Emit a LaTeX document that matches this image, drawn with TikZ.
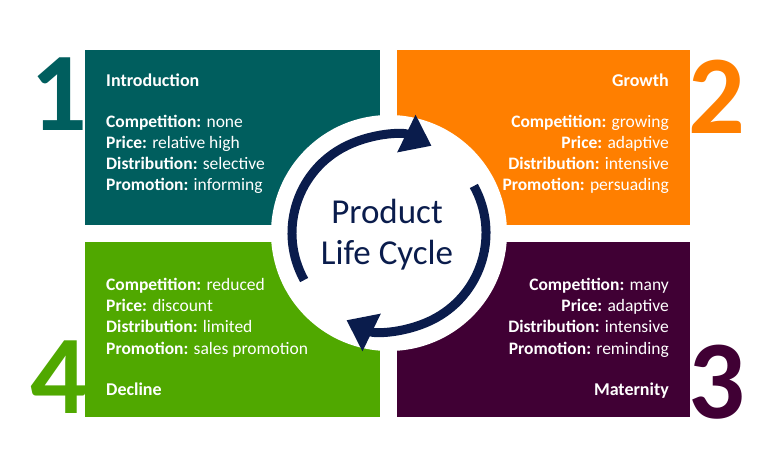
\documentclass[tikz,border=0pt]{standalone}
\usepackage{fontspec}
\setmainfont{Carlito}
\usetikzlibrary{arrows.meta}
\definecolor{cteal}{RGB}{0,94,94}
\definecolor{corange}{RGB}{255,127,0}
\definecolor{cgreen}{RGB}{80,168,0}
\definecolor{cpurple}{RGB}{64,0,52}
\definecolor{cnavy}{RGB}{10,28,76}
\tikzset{quad/.style={inner sep=0pt,outer sep=0pt},
 lbl/.style={text=white,font=\fontsize{17.5}{20}\selectfont,inner sep=0pt},
 ttl/.style={text=white,font=\fontsize{18}{21}\selectfont\bfseries,inner sep=0pt},
 bignum/.style={font=\fontsize{112}{112}\selectfont\bfseries,inner sep=0pt},
 ring/.style={draw=cnavy,line width=9pt,-{Triangle[length=28pt,width=40pt]}}}
\begin{document}
\begin{tikzpicture}[x=1pt,y=-1pt]
\useasboundingbox (0,0) rectangle (762,466);
\fill[white] (0,0) rectangle (762,466);
\node[bignum,text=cteal,anchor=base east] (n1) at (87,130) {1};
\node[bignum,text=corange,anchor=base west] (n2) at (688,133) {2};
\node[bignum,text=cpurple,anchor=base west] (n3) at (688,418) {3};
\node[bignum,text=cgreen,anchor=base east] (n4) at (87,413) {4};
\fill[cteal] (85,50) rectangle (380,225);
\fill[corange] (397,50) rectangle (690,225);
\fill[cgreen] (85,242) rectangle (380,417);
\fill[cpurple] (397,242) rectangle (690,417);
\fill[white] (389,233) circle (118);
\node[ttl,anchor=base west] (t1) at (106,86) {Introduction};
\node[lbl,anchor=base west] (a1) at (106,127) {\textbf{Competition:} none};
\node[lbl,anchor=base west] (a2) at (106,148) {\textbf{Price:} relative high};
\node[lbl,anchor=base west] (a3) at (106,169) {\textbf{Distribution:} selective};
\node[lbl,anchor=base west] (a4) at (106,190) {\textbf{Promotion:} informing};
\node[ttl,anchor=base east] (t2) at (669,86) {Growth};
\node[lbl,anchor=base east] (b1) at (669,127) {\textbf{Competition:} growing};
\node[lbl,anchor=base east] (b2) at (669,148) {\textbf{Price:} adaptive};
\node[lbl,anchor=base east] (b3) at (669,169) {\textbf{Distribution:} intensive};
\node[lbl,anchor=base east] (b4) at (669,190) {\textbf{Promotion:} persuading};
\node[lbl,anchor=base west] (c1) at (106,290) {\textbf{Competition:} reduced};
\node[lbl,anchor=base west] (c2) at (106,311) {\textbf{Price:} discount};
\node[lbl,anchor=base west] (c3) at (106,332) {\textbf{Distribution:} limited};
\node[lbl,anchor=base west] (c4) at (106,354) {\textbf{Promotion:} sales promotion};
\node[ttl,anchor=base west] (t4) at (106,395) {Decline};
\node[lbl,anchor=base east] (d1) at (669,290) {\textbf{Competition:} many};
\node[lbl,anchor=base east] (d2) at (669,311) {\textbf{Price:} adaptive};
\node[lbl,anchor=base east] (d3) at (669,332) {\textbf{Distribution:} intensive};
\node[lbl,anchor=base east] (d4) at (669,354) {\textbf{Promotion:} reminding};
\node[ttl,anchor=base east] (t3) at (669,395) {Maternity};
\node[text=cnavy,font=\fontsize{35}{41}\selectfont,align=center] (ctr) at (387,235) {Product\\Life Cycle};
\coordinate (cc) at (389,233);
\draw[ring] ([shift={(151:97)}]cc) arc[start angle=151,end angle=296,radius=97];
\draw[ring] ([shift={(331:97)}]cc) arc[start angle=331,end angle=476,radius=97];
\end{tikzpicture}
\end{document}
